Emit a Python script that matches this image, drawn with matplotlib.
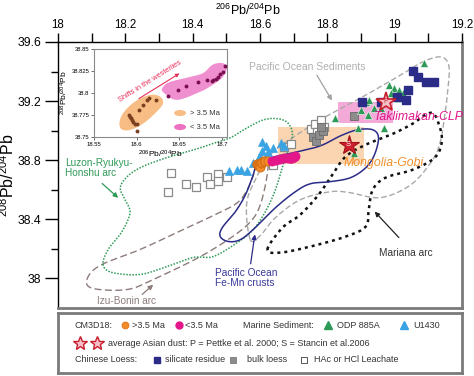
import numpy as np
import matplotlib
matplotlib.use('Agg')
import matplotlib.pyplot as plt
from matplotlib.patches import Rectangle, Ellipse, Polygon

plt.rcParams['font.family'] = ['Liberation Sans', 'DejaVu Sans']
plt.rcParams['mathtext.fontset'] = 'custom'
plt.rcParams['mathtext.rm'] = 'Liberation Sans'
plt.rcParams['mathtext.it'] = 'Liberation Sans:italic'

# ---- CM3D18 (used in main plot and inset) ----
old_x = [18.591, 18.592, 18.593, 18.595, 18.596, 18.598, 18.600, 18.600, 18.603, 18.607, 18.612, 18.614, 18.623]
old_y = [38.775, 38.773, 38.771, 38.769, 38.767, 38.765, 38.764, 38.756, 38.780, 38.786, 38.792, 38.794, 38.792]
young_x = [18.637, 18.649, 18.658, 18.672, 18.683, 18.688, 18.690, 18.693, 18.695, 18.698, 18.701, 18.704]
young_y = [38.796, 38.803, 38.808, 38.812, 38.815, 38.814, 38.815, 38.816, 38.818, 38.821, 38.824, 38.831]

# ---- marine sediments ----
odp_x = [18.824, 18.890, 18.899, 18.914, 18.923, 18.938, 18.958, 18.967, 18.982, 18.997,
         19.012, 19.024, 18.994, 19.009, 18.973, 19.086, 18.988, 18.878, 18.920]
odp_y = [39.087, 39.019, 39.141, 39.195, 39.208, 39.154, 39.154, 39.019, 39.310, 39.289,
         39.276, 39.256, 39.229, 39.222, 39.208, 39.458, 39.256, 38.851, 39.107]
u1430_x = [18.509, 18.533, 18.545, 18.560, 18.580, 18.592, 18.598, 18.607, 18.619, 18.607,
           18.625, 18.640, 18.661, 18.670]
u1430_y = [38.729, 38.736, 38.736, 38.729, 38.783, 38.790, 38.824, 38.925, 38.898, 38.864,
           38.857, 38.884, 38.918, 38.898]

# ---- Chinese loess ----
sil_x = [18.902, 18.958, 19.006, 19.033, 19.039, 19.054, 19.068, 19.092, 19.116]
sil_y = [39.195, 39.195, 39.229, 39.208, 39.276, 39.404, 39.364, 39.330, 39.330]
bulk_x = [18.878, 18.756, 18.765, 18.774, 18.786, 18.780]
bulk_y = [39.100, 38.959, 38.932, 38.972, 38.999, 39.026]
leach_x = [18.336, 18.381, 18.411, 18.443, 18.452, 18.476, 18.476, 18.503, 18.327,
           18.670, 18.693, 18.640, 18.750, 18.762, 18.780, 18.789, 18.768]
leach_y = [38.715, 38.641, 38.621, 38.688, 38.641, 38.709, 38.661, 38.688, 38.587,
           38.891, 38.911, 38.769, 39.013, 39.046, 39.073, 39.026, 38.992]

# average Asian dust
star_p = (18.973, 39.195)
star_s = (18.863, 38.905)

# source fields: (x0, x1, y0, y1)
gobi_box = (18.652, 18.908, 38.774, 39.027)
takl_box = (18.833, 18.994, 39.054, 39.197)

# field outlines (x, y)
pac_sed = [(18.571, 38.263), (18.560, 38.499), (18.586, 38.668), (18.631, 38.837), (18.696, 38.952),
           (18.795, 39.094), (18.905, 39.229), (19.018, 39.377), (19.083, 39.465), (19.137, 39.499),
           (19.161, 39.438), (19.158, 39.276), (19.149, 39.107), (19.137, 38.938), (19.113, 38.803),
           (19.048, 38.634), (18.958, 38.547), (18.869, 38.580), (18.810, 38.587), (18.720, 38.533),
           (18.646, 38.412), (18.601, 38.290)]
mariana = [(18.622, 38.196), (18.667, 38.344), (18.720, 38.432), (18.774, 38.567), (18.815, 38.702),
           (18.854, 38.824), (18.914, 38.905), (18.988, 38.972), (19.048, 39.040), (19.107, 39.121),
           (19.131, 39.046), (19.140, 38.925), (19.119, 38.817), (19.054, 38.736), (18.973, 38.682),
           (18.935, 38.601), (18.923, 38.466), (18.914, 38.351), (18.854, 38.283), (18.750, 38.216),
           (18.661, 38.175)]
femn = [(18.595, 38.783), (18.646, 38.824), (18.711, 38.857), (18.780, 38.898), (18.839, 38.965),
        (18.890, 39.006), (18.935, 39.006), (18.952, 38.952), (18.940, 38.837), (18.914, 38.749),
        (18.869, 38.682), (18.810, 38.655), (18.750, 38.641), (18.705, 38.587), (18.646, 38.479),
        (18.586, 38.344), (18.542, 38.263), (18.506, 38.250), (18.482, 38.283), (18.488, 38.344),
        (18.527, 38.452), (18.557, 38.567), (18.577, 38.682)]
luzon = [(18.685, 39.046), (18.655, 39.080), (18.610, 39.073), (18.557, 39.013), (18.512, 38.952),
         (18.467, 38.918), (18.423, 38.884), (18.372, 38.851), (18.304, 38.803), (18.244, 38.749),
         (18.205, 38.688), (18.185, 38.614), (18.199, 38.533), (18.214, 38.445), (18.190, 38.317),
         (18.149, 38.196), (18.134, 38.094), (18.161, 38.040), (18.244, 38.027), (18.324, 38.081),
         (18.402, 38.142), (18.461, 38.148), (18.533, 38.243), (18.580, 38.331), (18.616, 38.452),
         (18.646, 38.601), (18.673, 38.803), (18.696, 38.959)]
izu = [(18.086, 37.993), (18.125, 38.088), (18.244, 38.196), (18.372, 38.331), (18.467, 38.432),
       (18.533, 38.513), (18.565, 38.614), (18.589, 38.749), (18.610, 38.837), (18.625, 38.817),
       (18.619, 38.668), (18.601, 38.499), (18.577, 38.398), (18.527, 38.297), (18.423, 38.148),
       (18.283, 37.993), (18.205, 37.925), (18.104, 37.932)]

# inset fields
old_field = [(18.580, 38.767), (18.585, 38.778), (18.598, 38.790), (18.615, 38.7975), (18.627, 38.796),
             (18.631, 38.788), (18.622, 38.777), (18.607, 38.7645), (18.592, 38.7576), (18.582, 38.7588)]
young_field = [(18.631, 38.801), (18.647, 38.792), (18.674, 38.801), (18.689, 38.809), (18.701, 38.818),
               (18.706, 38.8295), (18.700, 38.834), (18.689, 38.832), (18.678, 38.8226), (18.662, 38.818),
               (18.639, 38.8124), (18.631, 38.8067)]

ORANGE = '#f28c28'
PINK = '#e3168a'
GREEN = '#2e9a58'
LBLUE = '#3aa3e3'
NAVY = '#2b2c88'


def smooth(pts, n=16):
    # closed Catmull-Rom curve through the outline points
    p = np.asarray(pts, float)
    m = len(p)
    t = np.linspace(0, 1, n, endpoint=False)[:, None]
    out = []
    for i in range(m):
        p0, p1, p2, p3 = p[i - 1], p[i], p[(i + 1) % m], p[(i + 2) % m]
        out.append(0.5 * (2 * p1 + (-p0 + p2) * t + (2 * p0 - 5 * p1 + 4 * p2 - p3) * t ** 2
                          + (-p0 + 3 * p1 - 3 * p2 + p3) * t ** 3))
    out = np.vstack(out)
    return np.vstack([out, out[:1]])


fig = plt.figure(figsize=(4.74, 3.76), dpi=100)
ax = fig.add_axes([58 / 474, 1 - 308 / 376, 404 / 474, 266 / 376])
ax.set_xlim(18, 19.2)
ax.set_ylim(37.8, 39.6)

# boxes
ax.add_patch(Rectangle((gobi_box[0], gobi_box[2]), gobi_box[1] - gobi_box[0], gobi_box[3] - gobi_box[2],
                       facecolor='#fbd4b2', edgecolor='none', zorder=1))
ax.add_patch(Rectangle((takl_box[0], takl_box[2]), takl_box[1] - takl_box[0], takl_box[3] - takl_box[2],
                       facecolor='#f3aad8', edgecolor='none', zorder=1))

# outlines
c = smooth(pac_sed)
ax.plot(c[:, 0], c[:, 1], color='#a8a8a8', lw=1.0, dashes=(4, 2), zorder=2)
c = smooth(izu)
ax.plot(c[:, 0], c[:, 1], color='#8c7c7a', lw=1.0, dashes=(5, 2.5), zorder=2)
c = smooth(mariana)
ax.plot(c[:, 0], c[:, 1], color='#111111', lw=1.8, dashes=(1.2, 1.6), zorder=2)
c = smooth(luzon)
ax.plot(c[:, 0], c[:, 1], color=GREEN, lw=1.1, dashes=(1, 1), zorder=2)
c = smooth(femn)
ax.plot(c[:, 0], c[:, 1], color=NAVY, lw=1.1, zorder=2)

# markers
ax.plot(leach_x, leach_y, 's', ms=5.5, mfc='white', mec='#8a8a8a', mew=0.9, zorder=3)
ax.plot(bulk_x, bulk_y, 's', ms=5.5, mfc='#8c8c8c', mec='#6a6a6a', mew=0.6, zorder=3)
ax.plot(u1430_x, u1430_y, '^', ms=5.5, mfc=LBLUE, mec=LBLUE, mew=0.5, zorder=4)
ax.plot(odp_x, odp_y, '^', ms=5.5, mfc=GREEN, mec='white', mew=0.4, zorder=4)
ax.plot(sil_x, sil_y, 's', ms=6, mfc=NAVY, mec=NAVY, zorder=4)
ax.plot(old_x, old_y, 'o', ms=6.5, mfc=ORANGE, mec='#d56a10', mew=0.6, zorder=5)
ax.plot(young_x, young_y, 'o', ms=6.5, mfc=PINK, mec=PINK, mew=0.6, zorder=5)

ax.plot(*star_p, marker='*', ms=15, mfc='#f7c0c8', mec='#c81e2c', mew=1.2, zorder=6)
ax.text(*star_p, 'P', fontsize=5, color='#c81e2c', ha='center', va='center', zorder=7)
ax.plot(*star_s, marker='*', ms=15, mfc='#d0202e', mec='#a01018', mew=0.8, zorder=6)
ax.text(*star_s, 'S', fontsize=5.5, color='white', ha='center', va='center', zorder=7)

# labels
ax.text(18.741, 39.431, 'Pacific Ocean Sediments', fontsize=7.5, color='#b0b0b0', ha='center', va='center')
ax.annotate('', xy=(18.818, 39.188), xytext=(18.765, 39.391),
            arrowprops=dict(arrowstyle='-|>', color='#a0a0a0', lw=0.9, mutation_scale=7))
ax.text(18.938, 39.094, 'Taklimakan-CLP', fontsize=8.8, color='#e0148a', style='italic',
        ha='left', va='center', zorder=8)
ax.text(18.848, 38.783, 'Mongolia-Gobi', fontsize=8.8, color='#f0902a', style='italic',
        ha='left', va='center', zorder=8)
ax.text(19.033, 38.175, 'Mariana arc', fontsize=7.3, color='#333333', ha='center', va='center')
ax.annotate('', xy=(18.935, 38.466), xytext=(19.018, 38.263),
            arrowprops=dict(arrowstyle='-|>', color='#222222', lw=0.9, mutation_scale=7))
ax.text(18.021, 38.749, 'Luzon-Ryukyu-\nHonshu arc', fontsize=7.2, color=GREEN, ha='left',
        va='center', linespacing=1.0)
ax.annotate('', xy=(18.185, 38.533), xytext=(18.125, 38.655),
            arrowprops=dict(arrowstyle='-|>', color=GREEN, lw=0.9, mutation_scale=7))
ax.text(18.467, 38.0, 'Pacific Ocean\nFe-Mn crusts', fontsize=7.3, color='#3a3a9a', ha='left',
        va='center', linespacing=1.0)
ax.annotate('', xy=(18.586, 38.317), xytext=(18.571, 38.081),
            arrowprops=dict(arrowstyle='-|>', color=NAVY, lw=0.9, mutation_scale=7))
ax.text(18.116, 37.844, 'Izu-Bonin arc', fontsize=7.2, color='#8c7c7a', ha='left', va='center')
ax.annotate('', xy=(18.289, 37.97), xytext=(18.244, 37.88),
            arrowprops=dict(arrowstyle='-|>', color='#8c7c7a', lw=0.9, mutation_scale=7))

# axes style
ax.xaxis.tick_top()
ax.xaxis.set_label_position('top')
ax.set_xticks(np.arange(18, 19.21, 0.2))
ax.set_xticklabels(['18', '18.2', '18.4', '18.6', '18.8', '19', '19.2'])
ax.set_xticks(np.arange(18.1, 19.2, 0.2), minor=True)
ax.set_yticks([38.0, 38.4, 38.8, 39.2, 39.6])
ax.set_yticklabels(['38', '38.4', '38.8', '39.2', '39.6'])
ax.set_yticks([38.2, 38.6, 39.0, 39.4], minor=True)
ax.tick_params(axis='x', which='both', direction='out', length=6.5, width=1, labelsize=8.3, pad=1.5)
ax.tick_params(axis='y', which='major', direction='out', length=9.4, width=1, labelsize=8.8, pad=2.5)
ax.tick_params(axis='y', which='minor', direction='out', length=5, width=1)
for s in ['right', 'bottom']:
    ax.spines[s].set_color('#7a7a7a')
    ax.spines[s].set_linewidth(2)
ax.spines['left'].set_linewidth(1)
ax.spines['top'].set_linewidth(1)
ax.set_xlabel(r'$^{206}$Pb/$^{204}$Pb', fontsize=9)
ax.xaxis.set_label_coords(0.47, 1.092)
ax.xaxis.label.set_va('bottom')
ax.set_ylabel(r'$^{208}$Pb/$^{204}$Pb', fontsize=11.5, labelpad=0)
ax.yaxis.set_label_coords(-0.101, 0.5)

# ---- inset ----
axi = fig.add_axes([94 / 474, 1 - 136.7 / 376, 133 / 474, 87.7 / 376], zorder=10)
axi.set_facecolor('white')
axi.set_xlim(18.55, 18.706)
axi.set_ylim(38.75, 38.85)
axi.add_patch(Polygon(smooth(old_field), closed=True, facecolor='#f7bd85', edgecolor='none', zorder=1))
axi.add_patch(Polygon(smooth(young_field), closed=True, facecolor='#f08fd0', edgecolor='none', zorder=1))
axi.plot(old_x, old_y, 'o', ms=1.8, color='#7a4020', zorder=3)
axi.plot(young_x, young_y, 'o', ms=1.8, color='#7a1050', zorder=3)
axi.annotate('', xy=(18.653, 38.8238), xytext=(18.600, 38.7918),
             arrowprops=dict(arrowstyle='-|>', color='#e8305a', lw=0.8, mutation_scale=5))
axi.text(18.616, 38.8125, 'Shifts in the westerlies', fontsize=5.3, color='#e8305a', rotation=32,
         ha='center', va='center', rotation_mode='anchor')
axi.add_patch(Ellipse((0.647, 0.27), 0.09, 0.07, transform=axi.transAxes, facecolor='#f7bd85',
                      edgecolor='none'))
axi.add_patch(Ellipse((0.647, 0.11), 0.09, 0.07, transform=axi.transAxes, facecolor='#ee70c0',
                      edgecolor='none'))
axi.text(0.72, 0.27, '> 3.5 Ma', transform=axi.transAxes, fontsize=5.5, color='#333333', va='center')
axi.text(0.72, 0.11, '< 3.5 Ma', transform=axi.transAxes, fontsize=5.5, color='#333333', va='center')
axi.set_xticks([18.55, 18.6, 18.65, 18.7])
axi.set_xticklabels(['18.55', '18.6', '18.65', '18.7'])
axi.set_yticks([38.75, 38.775, 38.8, 38.825, 38.85])
axi.set_yticklabels(['38.75', '38.775', '38.8', '38.825', '38.85'])
axi.tick_params(which='both', direction='out', length=2, width=0.6, labelsize=4.2, pad=1.5,
                color='#555555')
for s in axi.spines.values():
    s.set_color('#8a8a8a')
    s.set_linewidth(0.8)
axi.set_xlabel(r'$^{206}$Pb/$^{204}$Pb', fontsize=6, labelpad=1.5)
axi.set_ylabel(r'$^{208}$Pb/$^{204}$Pb', fontsize=6, labelpad=1)

# ---- legend box ----
axl = fig.add_axes([58 / 474, 1 - 373 / 376, 404 / 474, 60 / 376])
axl.set_xlim(0, 1)
axl.set_ylim(0, 1)
axl.set_xticks([])
axl.set_yticks([])
for s in axl.spines.values():
    s.set_color('#7a7a7a')
    s.set_linewidth(2)
fs = 6.5
tc = '#333333'
r1, r2, r3 = 0.8, 0.5, 0.217
axl.text(0.042, r1, 'CM3D18:', fontsize=fs, color=tc, va='center')
axl.plot(0.166, r1, 'o', ms=5, mfc=ORANGE, mec='#d56a10', mew=0.5)
axl.text(0.183, r1, '>3.5 Ma', fontsize=fs, color=tc, va='center')
axl.plot(0.300, r1, 'o', ms=5, mfc=PINK, mec=PINK)
axl.text(0.314, r1, '<3.5 Ma', fontsize=fs, color=tc, va='center')
axl.text(0.458, r1, 'Marine Sediment:', fontsize=fs, color=tc, va='center')
axl.plot(0.668, r1, '^', ms=6, mfc=GREEN, mec=GREEN)
axl.text(0.691, r1, 'ODP 885A', fontsize=fs, color=tc, va='center')
axl.plot(0.856, r1, '^', ms=6, mfc=LBLUE, mec=LBLUE)
axl.text(0.879, r1, 'U1430', fontsize=fs, color=tc, va='center')
axl.plot(0.054, r2, '*', ms=10, mfc='#f7c0c8', mec='#c81e2c', mew=1)
axl.plot(0.097, r2, '*', ms=10, mfc='#f7c0c8', mec='#c81e2c', mew=1)
axl.text(0.124, r2, 'average Asian dust: P = Pettke et al. 2000; S = Stancin et al.2006',
         fontsize=fs, color=tc, va='center')
axl.text(0.042, r3, 'Chinese Loess:', fontsize=fs, color=tc, va='center')
axl.plot(0.245, r3, 's', ms=5, mfc=NAVY, mec=NAVY)
axl.text(0.265, r3, 'silicate residue', fontsize=fs, color=tc, va='center')
axl.plot(0.433, r3, 's', ms=5, mfc='#8c8c8c', mec='#6a6a6a', mew=0.5)
axl.text(0.468, r3, 'bulk loess', fontsize=fs, color=tc, va='center')
axl.plot(0.609, r3, 's', ms=5, mfc='white', mec='#555555', mew=0.7)
axl.text(0.634, r3, 'HAc or HCl Leachate', fontsize=fs, color=tc, va='center')

fig.savefig('out.png', dpi=100)
